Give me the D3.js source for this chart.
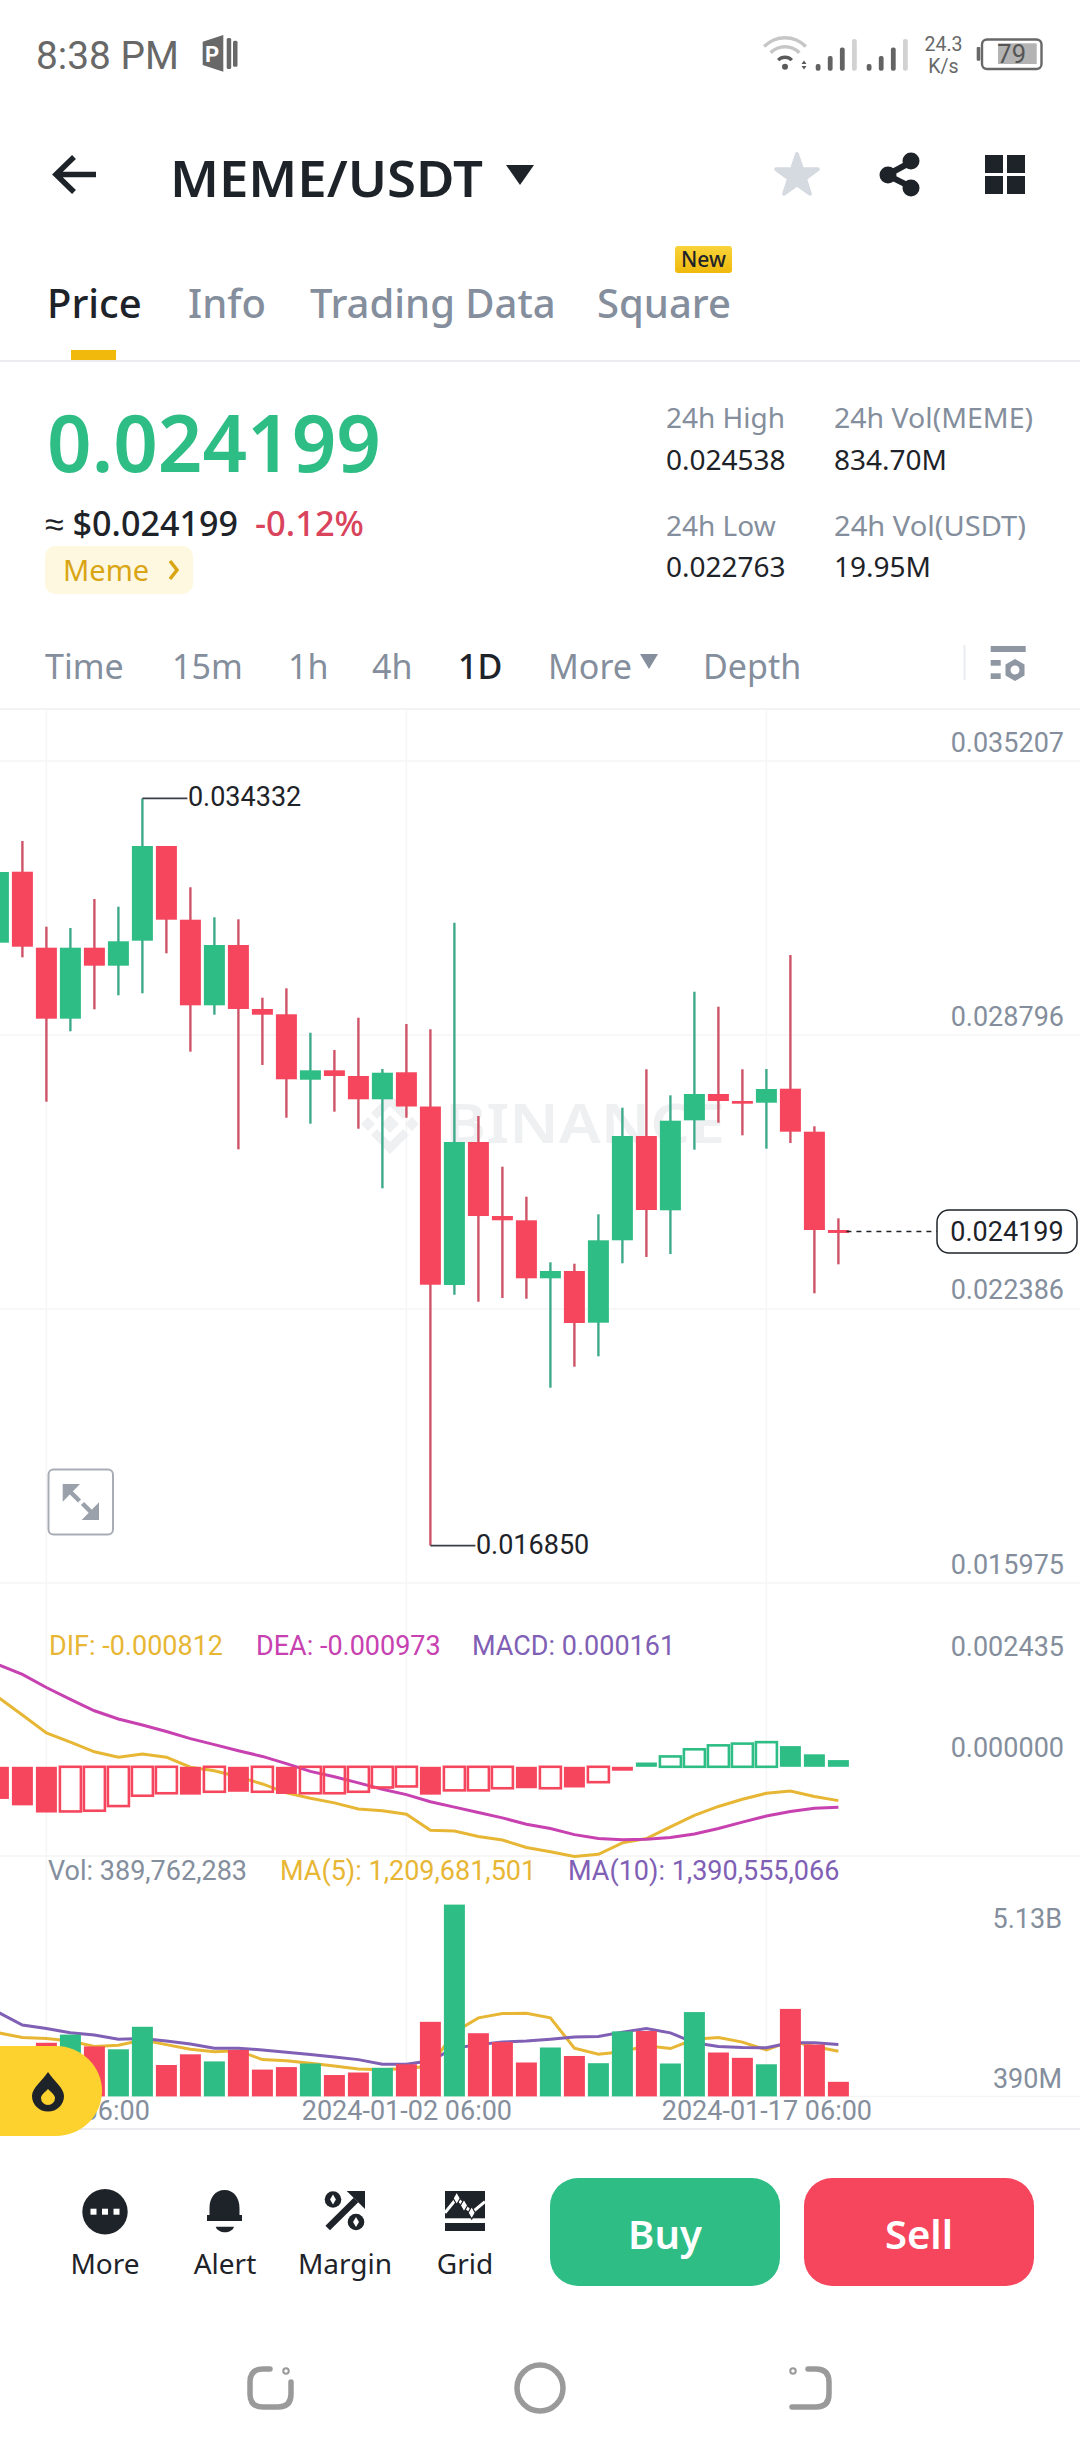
<!DOCTYPE html>
<html>
<head>
<meta charset="utf-8">
<script src="https://cdn.jsdelivr.net/npm/d3@7"></script>
<style>
  html, body { margin: 0; padding: 0; background: #fff; }
  svg { display: block; }
  .ui { font-family: "Noto Sans", sans-serif; }
  .num { font-family: Roboto, sans-serif; }
</style>
</head>
<body>
<div id="chart"></div>
<script>
// daily candles, first one is cut off by the left edge
const candleOpen = [0.030956,0.032617,0.030839,0.029178,0.030839,0.030418,0.031003,0.033218,0.031494,0.029491,0.030902,0.029405,0.029281,0.027750,0.027970,0.027837,0.027292,0.027924,0.027123,0.022947,0.026293,0.024561,0.024461,0.023104,0.023275,0.022065,0.023993,0.026433,0.024695,0.026800,0.027416,0.027252,0.027212,0.027540,0.026534,0.024234];
const candleHigh = [0.032891,0.033335,0.031330,0.031300,0.031978,0.031798,0.034332,0.033218,0.032252,0.031550,0.031503,0.029669,0.029889,0.028850,0.028445,0.029201,0.028001,0.029054,0.028930,0.031424,0.026901,0.025715,0.025013,0.023478,0.023445,0.024601,0.027095,0.027994,0.027385,0.029809,0.029458,0.027994,0.028001,0.030668,0.026660,0.024507];
const candleLow = [0.030785,0.030614,0.027236,0.028883,0.029398,0.029725,0.029772,0.030708,0.028406,0.029271,0.026122,0.028094,0.026861,0.026721,0.027002,0.026604,0.025210,0.026861,0.016850,0.022720,0.022556,0.022643,0.022626,0.020544,0.021035,0.021279,0.023455,0.023602,0.023672,0.026113,0.026744,0.026449,0.026136,0.026269,0.022753,0.023431];
const candleClose = [0.032610,0.030862,0.029178,0.030839,0.030418,0.030989,0.033218,0.031494,0.029491,0.030902,0.029405,0.029271,0.027760,0.027970,0.027837,0.027292,0.027914,0.027123,0.022954,0.026293,0.024561,0.024461,0.023104,0.023275,0.022058,0.023993,0.026433,0.024702,0.026791,0.027416,0.027252,0.027189,0.027533,0.026534,0.024234,0.024165];

const histValues = [-0.000772,-0.000926,-0.001098,-0.001072,-0.001055,-0.000943,-0.000695,-0.000635,-0.000669,-0.000600,-0.000600,-0.000600,-0.000652,-0.000635,-0.000635,-0.000600,-0.000497,-0.000472,-0.000669,-0.000566,-0.000566,-0.000515,-0.000515,-0.000515,-0.000497,-0.000369,-0.000094,0.000103,0.000249,0.000420,0.000515,0.000557,0.000592,0.000497,0.000300,0.000161];
const histHollow = [0,0,0,1,1,1,1,1,0,1,0,1,0,1,1,1,1,1,0,1,1,1,0,1,0,1,0,0,1,1,1,1,1,0,0,0];
const difValues = [0.001664,0.001243,0.000815,0.000592,0.000360,0.000232,0.000309,0.000232,-0.000009,-0.000094,-0.000240,-0.000412,-0.000626,-0.000755,-0.000866,-0.001012,-0.001055,-0.001140,-0.001526,-0.001544,-0.001672,-0.001758,-0.001938,-0.002041,-0.002152,-0.002101,-0.001826,-0.001724,-0.001441,-0.001166,-0.000952,-0.000780,-0.000635,-0.000583,-0.000712,-0.000812];
const deaValues = [0.002452,0.002221,0.001904,0.001621,0.001346,0.001149,0.001003,0.000849,0.000677,0.000532,0.000386,0.000249,0.000077,-0.000111,-0.000240,-0.000386,-0.000540,-0.000669,-0.000840,-0.000969,-0.001098,-0.001226,-0.001381,-0.001483,-0.001629,-0.001724,-0.001749,-0.001741,-0.001698,-0.001612,-0.001483,-0.001329,-0.001183,-0.001072,-0.000995,-0.000973];

// volumes in billions of MEME
const volumeB = [1.07,1.20,1.434,1.653,1.337,1.260,1.862,0.840,1.126,0.936,1.241,0.717,0.784,0.880,0.572,0.639,0.765,0.859,1.995,5.13,1.690,1.452,0.907,1.308,1.081,0.888,1.739,1.749,0.880,2.255,1.174,1.032,0.859,2.340,1.386,0.390];
const ma5B = [1.700,1.576,1.547,1.481,1.337,1.366,1.509,1.385,1.261,1.194,1.223,0.984,0.955,0.888,0.812,0.736,0.716,0.745,0.812,1.719,2.101,2.216,2.226,2.101,1.290,1.127,1.194,1.356,1.280,1.528,1.576,1.452,1.242,1.481,1.337,1.210];
const ma10B = [2.245,1.910,1.815,1.700,1.643,1.528,1.547,1.481,1.404,1.290,1.290,1.242,1.184,1.118,1.051,0.984,0.860,0.860,0.955,1.290,1.385,1.452,1.481,1.528,1.586,1.605,1.719,1.815,1.700,1.433,1.337,1.309,1.299,1.433,1.433,1.391];

const priceTicks = [0.035207, 0.028796, 0.022386, 0.015975];
const macdTicks = [0.002435, 0];
const dateTickIdx = [2, 17, 32];
// first date is under the yellow tab, only the time shows
const dateTickLabels = ["06:00", "2024-01-02 06:00", "2024-01-17 06:00"];
const lastPrice = 0.024199;

const tabLabels = [["Price", 47], ["Info", 188], ["Trading Data", 310], ["Square", 597]];
const periodLabels = [["Time", 45], ["15m", 172], ["1h", 288], ["4h", 372], ["1D", 458], ["More", 548], ["Depth", 703]];
const toolLabels = [["More", 105], ["Alert", 225], ["Margin", 345], ["Grid", 465]];

const GREEN = "#2ebd85", RED = "#f6465d", GREEN_WICK = "#3fa98a", RED_WICK = "#cf5468";
const DARK = "#1e2329", GRAY = "#848e9c", GRID = "#f5f5f5", LINE = "#eaecef";
const YELLOW = "#e7b634", MAGENTA = "#c741b0", PURPLE = "#7f60b4";
const STATUS = "#686868";

const svg = d3.select("#chart").append("svg").attr("width", 1080).attr("height", 2460);

function txt(parent, x, y, str, size, fill, cls, weight, anchor) {
    return parent.append("text")
        .attr("class", cls || "ui")
        .attr("x", x).attr("y", y)
        .attr("font-size", size)
        .attr("font-weight", weight || 400)
        .attr("text-anchor", anchor || "start")
        .attr("fill", fill)
        .text(str);
}

// the app font runs wider than Noto, stretch to the measured width
function fit(sel, w) {
    return sel.attr("textLength", w).attr("lengthAdjust", "spacingAndGlyphs");
}

// scales, all panels share the x
const x = d3.scaleLinear().domain([0, 35]).range([-1.6, 838.4]);
const BODY = 21;
const yPrice = d3.scaleLinear().domain([0.015975, 0.035207]).range([1583, 761]);
const yMacd = d3.scaleLinear().domain([0, 0.002435]).range([1766.8, 1665.4]);
const yVol = d3.scaleLinear().domain([0, 5.13]).range([2096.4, 1904.6]);

/********** status bar **********/
function drawStatus() {
    let g = svg.append("g");
    txt(g, 36, 69, "8:38 PM", 38.8, STATUS, "num");
    g.append("path").attr("d", "M202.7 41.7 L223.3 35 V71.7 L202.7 65 Z").attr("fill", STATUS);
    txt(g, 205, 62, "P", 22, "#fff", "num", 700);
    g.append("rect").attr("x", 226.7).attr("y", 38).attr("width", 4.5).attr("height", 31).attr("rx", 1.5).attr("fill", STATUS);
    g.append("rect").attr("x", 233).attr("y", 40.7).attr("width", 4.5).attr("height", 26).attr("rx", 1.5).attr("fill", STATUS);

    // wifi
    [29, 20, 9.5].forEach((r, i) => {
        g.append("path").attr("d", d3.arc()({innerRadius: r - 1.7, outerRadius: r + 1.7, startAngle: -0.8, endAngle: 0.8}))
            .attr("transform", "translate(785,66.7)").attr("fill", i == 2 ? "#5a5a5a" : "#c6c6c6");
    });
    g.append("circle").attr("cx", 785).attr("cy", 66.7).attr("r", 3).attr("fill", "#5a5a5a");
    g.append("path").attr("d", "M801.5 64 L804 60.5 L806.5 64 Z M801.5 66 L804 69.5 L806.5 66 Z").attr("fill", "#5a5a5a");
    // signal, two sims
    [815.7, 866.7].forEach(x0 => {
        [6.7, 14.7, 23.3, 31.7].forEach((h, i) => {
            g.append("rect").attr("x", x0 + i * 12.1).attr("y", 70.7 - h).attr("width", 4.8).attr("height", h).attr("rx", 2)
                .attr("fill", i == 3 ? "#d2d2d2" : "#636363");
        });
    });
    txt(g, 943.5, 50.7, "24.3", 19.5, STATUS, "num", 400, "middle");
    txt(g, 943.5, 72.7, "K/s", 19.5, STATUS, "num", 400, "middle");
    g.append("rect").attr("x", 982).attr("y", 39.5).attr("width", 59.5).attr("height", 29.5).attr("rx", 5)
        .attr("fill", "#fff").attr("stroke", STATUS).attr("stroke-width", 2.4);
    g.append("rect").attr("x", 998).attr("y", 43.3).attr("width", 38.7).attr("height", 20.7).attr("fill", "#b3b3b3");
    g.append("rect").attr("x", 976.7).attr("y", 47).attr("width", 3.6).attr("height", 13.7).attr("rx", 1).attr("fill", STATUS);
    txt(g, 1011.7, 63.3, "79", 25.5, "#555", "num", 400, "middle");
}

/********** header, tabs, ticker **********/
function drawHeader() {
    let g = svg.append("g");
    g.append("path").attr("d", "M96 174.5 H58 M74 157 L56 174.5 L74 192")
        .attr("fill", "none").attr("stroke", DARK).attr("stroke-width", 5.5);
    fit(txt(g, 170, 197, "MEME/USDT", 51, DARK, "ui", 600), 313);
    g.append("path").attr("d", "M506 165 H534 L520 185 Z").attr("fill", DARK);

    g.append("path").attr("d", d3.symbol(d3.symbolStar, 540)())
        .attr("transform", "translate(797,176)").attr("fill", "#d5d9e0")
        .attr("stroke", "#d5d9e0").attr("stroke-width", 4).attr("stroke-linejoin", "round");

    g.append("path").attr("d", "M913 161 L887 175 L913 188").attr("fill", "none").attr("stroke", DARK).attr("stroke-width", 6);
    [[911, 161], [888, 175], [911, 188]].forEach(p => {
        g.append("circle").attr("cx", p[0]).attr("cy", p[1]).attr("r", 8.5).attr("fill", DARK);
    });

    [[985, 155], [1007, 155], [985, 176], [1007, 176]].forEach(p => {
        g.append("rect").attr("x", p[0]).attr("y", p[1]).attr("width", 18).attr("height", 18).attr("fill", DARK);
    });

    // tabs
    tabLabels.forEach((t, i) => txt(g, t[1], 318, t[0], 40, i == 0 ? DARK : GRAY, "ui", 500));
    let grad = svg.append("defs").append("linearGradient").attr("id", "newBadge")
        .attr("x1", 0).attr("x2", 0).attr("y1", 0).attr("y2", 1);
    grad.append("stop").attr("offset", 0).attr("stop-color", "#f8d33a");
    grad.append("stop").attr("offset", 1).attr("stop-color", "#f0b90b");
    g.append("rect").attr("x", 675).attr("y", 246).attr("width", 57).attr("height", 27).attr("rx", 3).attr("fill", "url(#newBadge)");
    txt(g, 703.5, 267, "New", 21, DARK, "ui", 500, "middle");
    g.append("rect").attr("x", 71).attr("y", 350).attr("width", 45).attr("height", 10).attr("fill", "#f0b90b");
    g.append("rect").attr("x", 0).attr("y", 360).attr("width", 1080).attr("height", 2).attr("fill", LINE);

    // ticker
    fit(txt(g, 47, 472, "0.024199", 80, GREEN, "ui", 600), 334);
    fit(txt(g, 45, 536, "≈ $0.024199", 34, DARK, "ui", 500), 193);
    fit(txt(g, 255, 536, "-0.12%", 34, "#d9435b", "ui", 500), 109);
    g.append("rect").attr("x", 45).attr("y", 546).attr("width", 148).attr("height", 48).attr("rx", 10).attr("fill", "#fff8e1");
    txt(g, 63, 581, "Meme", 29, "#d9a514", "ui");
    g.append("path").attr("d", "M170 561 L177 570 L170 579").attr("fill", "none").attr("stroke", "#d9a514").attr("stroke-width", 3.5);

    txt(g, 666, 428, "24h High", 28, GRAY);
    txt(g, 666, 470, "0.024538", 28, DARK);
    fit(txt(g, 834, 428, "24h Vol(MEME)", 28, GRAY), 199);
    txt(g, 834, 470, "834.70M", 28, DARK);
    txt(g, 666, 536, "24h Low", 28, GRAY);
    txt(g, 666, 577, "0.022763", 28, DARK);
    fit(txt(g, 834, 536, "24h Vol(USDT)", 28, GRAY), 192);
    txt(g, 834, 577, "19.95M", 28, DARK);

    // period bar
    periodLabels.forEach(t => txt(g, t[1], 679, t[0], 34, t[0] == "1D" ? DARK : GRAY, "ui", t[0] == "1D" ? 500 : 400));
    g.append("path").attr("d", "M640 654 H658 L649 669 Z").attr("fill", GRAY);
    g.append("rect").attr("x", 963.5).attr("y", 645).attr("width", 2).attr("height", 35).attr("fill", LINE);
    const ICON = "#8f97a3";
    g.append("rect").attr("x", 990.7).attr("y", 646).attr("width", 35).attr("height", 6).attr("fill", ICON);
    g.append("rect").attr("x", 990.7).attr("y", 660).attr("width", 10).attr("height", 5.7).attr("fill", ICON);
    g.append("rect").attr("x", 990.7).attr("y", 673.3).attr("width", 10).attr("height", 5.7).attr("fill", ICON);
    g.append("path").attr("d", "M1015 659 L1024.5 664.5 V675.5 L1015 681 L1005.5 675.5 V664.5 Z").attr("fill", ICON);
    g.append("circle").attr("cx", 1015).attr("cy", 670).attr("r", 4.5).attr("fill", "#fff");
    g.append("rect").attr("x", 0).attr("y", 708).attr("width", 1080).attr("height", 2).attr("fill", "#f2f3f5");
}

/********** grids, axes and watermark **********/
function drawGrid() {
    let g = svg.append("g");
    // vertical grid from the date ticks
    g.selectAll("line.v").data(dateTickIdx).join("line").attr("class", "v")
        .attr("x1", d => x(d)).attr("x2", d => x(d)).attr("y1", 710).attr("y2", 2096)
        .attr("stroke", GRID).attr("stroke-width", 1.5);
    g.selectAll("line.p").data(priceTicks).join("line").attr("class", "p")
        .attr("x1", 0).attr("x2", 1080).attr("y1", d => yPrice(d)).attr("y2", d => yPrice(d))
        .attr("stroke", GRID).attr("stroke-width", 1.5);
    g.append("line").attr("x1", 0).attr("x2", 1080).attr("y1", 1856).attr("y2", 1856).attr("stroke", GRID).attr("stroke-width", 1.5);
    g.append("line").attr("x1", 0).attr("x2", 1080).attr("y1", yVol(0)).attr("y2", yVol(0)).attr("stroke", GRID).attr("stroke-width", 1.5);
    g.append("rect").attr("x", 0).attr("y", 2128).attr("width", 1080).attr("height", 2).attr("fill", LINE);

    // watermark: logo of a middle diamond, two small ones and two chevrons
    let mark = svg.append("g").attr("fill", "#eff0f1").attr("transform", "translate(390,1124)");
    mark.append("path").attr("d", "M0 -9 L9 0 L0 9 L-9 0 Z");
    mark.append("path").attr("d", "M-22 -7 L-15 0 L-22 7 L-29 0 Z M22 -7 L29 0 L22 7 L15 0 Z");
    mark.append("path").attr("d", "M0 -30 L19 -11 L13 -5 L0 -18 L-13 -5 L-19 -11 Z");
    mark.append("path").attr("d", "M0 30 L19 11 L13 5 L0 18 L-13 5 L-19 11 Z");
    fit(txt(svg, 445, 1143, "BINANCE", 55, "#eff0f1", "ui", 600), 280);
}

function drawAxes() {
    let priceAxis = d3.axisLeft(yPrice).tickValues(priceTicks).tickFormat(d3.format(".6f")).tickSize(0).tickPadding(0);
    let pg = svg.append("g").attr("class", "num").attr("transform", "translate(1064,-10)").call(priceAxis);
    let macdAxis = d3.axisLeft(yMacd).tickValues(macdTicks).tickFormat(d3.format(".6f")).tickSize(0).tickPadding(0);
    let mg = svg.append("g").attr("class", "num").attr("transform", "translate(1064,-10)").call(macdAxis);
    let dateAxis = d3.axisBottom(x).tickValues(dateTickIdx).tickFormat((d, i) => dateTickLabels[i]).tickSize(0).tickPadding(0);
    let dg = svg.append("g").attr("class", "num").attr("transform", "translate(0,2119.6)").call(dateAxis);
    [pg, mg, dg].forEach(a => {
        a.select(".domain").remove();
        a.attr("font-family", null).attr("font-size", null);
        a.selectAll("text").attr("font-size", 27).attr("fill", GRAY).attr("dy", 0).attr("y", 0);
    });
    // same right edge as the full date would have
    dg.selectAll("text").filter((d, i) => i == 0).attr("text-anchor", "end").attr("x", 103);

    txt(svg, 1062, 1928, "5.13B", 27, GRAY, "num", 400, "end");
    txt(svg, 1062, 2087.5, "390M", 27, GRAY, "num", 400, "end");
}

/********** candles **********/
function drawCandles() {
    let idx = d3.range(candleOpen.length);
    let up = i => candleClose[i] >= candleOpen[i];
    let g = svg.append("g");
    g.selectAll("line").data(idx).join("line")
        .attr("x1", i => x(i)).attr("x2", i => x(i))
        .attr("y1", i => yPrice(candleHigh[i])).attr("y2", i => yPrice(candleLow[i]))
        .attr("stroke", i => up(i) ? GREEN_WICK : RED_WICK).attr("stroke-width", 2.4);
    g.selectAll("rect").data(idx).join("rect")
        .attr("x", i => x(i) - BODY / 2).attr("width", BODY)
        .attr("y", i => yPrice(Math.max(candleOpen[i], candleClose[i])))
        .attr("height", i => Math.max(2.4, Math.abs(yPrice(candleOpen[i]) - yPrice(candleClose[i]))))
        .attr("fill", i => up(i) ? GREEN : RED);

    // high / low callouts
    let hi = d3.maxIndex(candleHigh), lo = d3.minIndex(candleLow);
    let ann = svg.append("g");
    let hy = yPrice(candleHigh[hi]), ly = yPrice(candleLow[lo]);
    ann.append("line").attr("x1", x(hi)).attr("x2", x(hi) + 45).attr("y1", hy).attr("y2", hy).attr("stroke", "#3a3f47").attr("stroke-width", 1.6);
    txt(ann, x(hi) + 45.5, hy + 8, d3.format(".6f")(candleHigh[hi]), 27, DARK, "num");
    ann.append("line").attr("x1", x(lo)).attr("x2", x(lo) + 45).attr("y1", ly).attr("y2", ly).attr("stroke", "#3a3f47").attr("stroke-width", 1.6);
    txt(ann, x(lo) + 45.5, ly + 8, d3.format(".6f")(candleLow[lo]), 27, DARK, "num");

    // last price tag
    let py = yPrice(lastPrice);
    ann.append("line").attr("x1", x(35) + 8).attr("x2", 937).attr("y1", py).attr("y2", py)
        .attr("stroke", DARK).attr("stroke-width", 1.5).attr("stroke-dasharray", "5,5");
    ann.append("rect").attr("x", 937).attr("y", py - 21.5).attr("width", 140).attr("height", 43).attr("rx", 12)
        .attr("fill", "#fff").attr("stroke", DARK).attr("stroke-width", 1.5);
    txt(ann, 1007, py + 9.5, d3.format(".6f")(lastPrice), 27, DARK, "num", 400, "middle");

    // expand button
    let b = svg.append("g");
    b.append("rect").attr("x", 48.5).attr("y", 1469.5).attr("width", 64.5).attr("height", 65).attr("rx", 5)
        .attr("fill", "#fff").attr("stroke", "#a8adb5").attr("stroke-width", 2);
    b.append("path").attr("d", "M62.7 1484 H80 L62.7 1501.7 Z M99 1502.3 V1520 H81.7 Z").attr("fill", "#9aa1ab");
    b.append("path").attr("d", "M71 1492.5 L79.5 1501 M82.5 1503.5 L91 1512").attr("stroke", "#9aa1ab").attr("stroke-width", 4.5);
}

/********** MACD panel **********/
function drawMacd() {
    let g = svg.append("g");
    [[49, "DIF: -0.000812", YELLOW], [256, "DEA: -0.000973", MAGENTA], [472, "MACD: 0.000161", PURPLE]].forEach(t => {
        txt(g, t[0], 1655, t[1], 27, t[2], "num");
    });
    let line = d3.line().x((d, i) => x(i)).y(d => yMacd(d));
    g.append("path").attr("d", line(difValues)).attr("fill", "none").attr("stroke", YELLOW).attr("stroke-width", 3);
    g.append("path").attr("d", line(deaValues)).attr("fill", "none").attr("stroke", MAGENTA).attr("stroke-width", 3);

    g.selectAll("rect").data(histValues).join("rect")
        .attr("x", (d, i) => x(i) - BODY / 2).attr("width", BODY)
        .attr("y", d => Math.min(yMacd(d), yMacd(0)))
        .attr("height", d => Math.abs(yMacd(d) - yMacd(0)))
        .attr("fill", (d, i) => histHollow[i] ? "none" : (d < 0 ? RED : GREEN))
        .attr("stroke", (d, i) => histHollow[i] ? (d < 0 ? RED : GREEN) : "none")
        .attr("stroke-width", 2.6);
}

/********** volume panel **********/
function drawVolume() {
    let g = svg.append("g");
    txt(g, 48, 1880, "Vol: 389,762,283", 27, GRAY, "num");
    txt(g, 280, 1880, "MA(5): 1,209,681,501", 27, YELLOW, "num");
    txt(g, 568, 1880, "MA(10): 1,390,555,066", 27, PURPLE, "num");

    let line = d3.line().x((d, i) => x(i)).y(d => yVol(d));
    g.append("path").attr("d", line(ma5B)).attr("fill", "none").attr("stroke", YELLOW).attr("stroke-width", 3);
    g.append("path").attr("d", line(ma10B)).attr("fill", "none").attr("stroke", PURPLE).attr("stroke-width", 3);

    g.selectAll("rect").data(volumeB).join("rect")
        .attr("x", (d, i) => x(i) - BODY / 2).attr("width", BODY)
        .attr("y", d => yVol(d)).attr("height", d => yVol(0) - yVol(d))
        .attr("fill", (d, i) => candleClose[i] >= candleOpen[i] ? GREEN : RED);
}

/********** bottom bar **********/
function drawFooter() {
    let g = svg.append("g");
    // yellow flame tab over the axis
    g.append("path").attr("d", "M0 2046 H56 A46 45 0 0 1 56 2136 H0 Z").attr("fill", "#fdd22f");
    g.append("path").attr("d", "M48 2072 C54 2081 64 2088 64 2096 A16 15.5 0 0 1 32 2096 C32 2088 42 2081 48 2072 Z M48 2089 C44 2093 41 2095 41 2098 A7 7 0 0 0 55 2098 C55 2095 52 2093 48 2089 Z")
        .attr("fill", DARK).attr("fill-rule", "evenodd");

    toolLabels.forEach(t => txt(g, t[1], 2274, t[0], 28, DARK, "ui", 400, "middle"));
    // more
    g.append("circle").attr("cx", 105).attr("cy", 2211.7).attr("r", 22.7).attr("fill", DARK);
    [-11.5, 0, 11.5].forEach(dx => g.append("rect").attr("x", 105 + dx - 3).attr("y", 2208.7).attr("width", 6).attr("height", 6).attr("fill", "#fff"));
    // alert
    g.append("path").attr("d", "M224.5 2190 C234 2190 239.5 2198 239.5 2208 V2215 H242 V2221 H207 V2215 H209.5 V2208 C209.5 2198 215 2190 224.5 2190 Z").attr("fill", DARK);
    g.append("path").attr("d", "M215.7 2226.7 H234 C232 2234 218 2234 215.7 2226.7 Z").attr("fill", DARK);
    // margin
    g.append("path").attr("d", "M327.7 2228 L356 2200").attr("fill", "none").attr("stroke", DARK).attr("stroke-width", 6.5);
    g.append("path").attr("d", "M346.7 2191 H365 V2209 Z").attr("fill", DARK);
    [[333, 2199.5], [356, 2222]].forEach(p => {
        g.append("circle").attr("cx", p[0]).attr("cy", p[1]).attr("r", 8.3).attr("fill", DARK);
        g.append("path").attr("d", d3.symbol(d3.symbolDiamond, 30)()).attr("transform", `translate(${p[0]},${p[1]})`).attr("fill", "#fff");
    });
    // grid
    g.append("rect").attr("x", 445).attr("y", 2191).attr("width", 40).attr("height", 27.3).attr("fill", DARK);
    g.append("rect").attr("x", 445).attr("y", 2223).attr("width", 40).attr("height", 8).attr("fill", DARK);
    g.append("path").attr("d", "M445 2212.7 L456.7 2198.3 L471.7 2212.7 L485 2201.7").attr("fill", "none").attr("stroke", "#fff").attr("stroke-width", 3);
    [[456.7, 2198.3], [464, 2205.5], [471.7, 2212.7]].forEach(p => {
        g.append("path").attr("d", d3.symbol(d3.symbolDiamond, 45)()).attr("transform", `translate(${p[0]},${p[1]})`)
            .attr("fill", "#fff").attr("stroke", DARK).attr("stroke-width", 1.2);
    });

    g.append("rect").attr("x", 550).attr("y", 2178).attr("width", 230).attr("height", 108).attr("rx", 28).attr("fill", GREEN);
    txt(g, 665, 2249, "Buy", 40, "#fff", "ui", 600, "middle");
    g.append("rect").attr("x", 804).attr("y", 2178).attr("width", 230).attr("height", 108).attr("rx", 28).attr("fill", RED);
    txt(g, 919, 2249, "Sell", 40, "#fff", "ui", 600, "middle");

    // android nav
    let nav = svg.append("g").attr("fill", "none").attr("stroke", "#9a9a9a").attr("stroke-width", 5.5).attr("stroke-linecap", "round");
    nav.append("path").attr("d", "M270 2369 H263 Q250 2369 250 2382 V2394 Q250 2407 263 2407 H278 Q291 2407 291 2394 V2382");
    nav.append("circle").attr("cx", 286).attr("cy", 2371).attr("r", 1);
    nav.append("circle").attr("cx", 540).attr("cy", 2388).attr("r", 23);
    nav.append("path").attr("d", "M808 2369 H816 Q829 2369 829 2382 V2394 Q829 2407 816 2407 H792");
    nav.append("circle").attr("cx", 793).attr("cy", 2371).attr("r", 1);
}

drawStatus();
drawHeader();
drawGrid();
drawAxes();
drawCandles();
drawMacd();
drawVolume();
drawFooter();
</script>
</body>
</html>
